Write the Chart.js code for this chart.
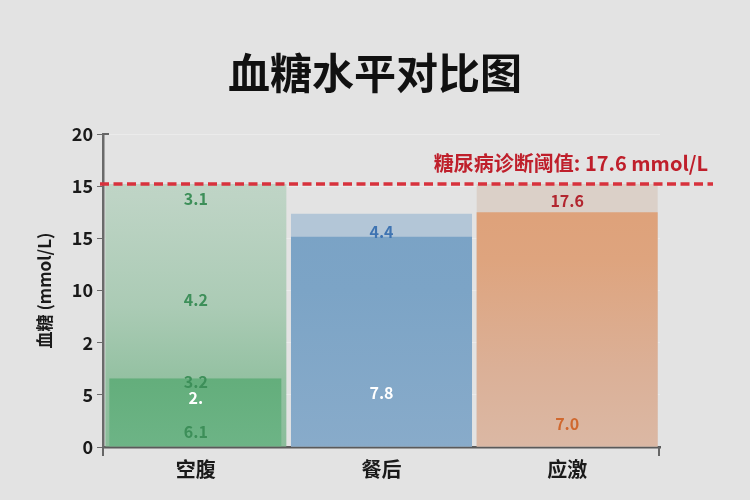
<!DOCTYPE html>
<html>
<head>
<meta charset="utf-8">
<script src="https://cdn.jsdelivr.net/npm/chart.js@4/dist/chart.umd.min.js"></script>
<style>
  html, body { margin: 0; padding: 0; background: #e3e3e3; }
  #wrap { width: 750px; height: 500px; }
</style>
</head>
<body>
<div id="wrap"><canvas id="c" width="750" height="500"></canvas></div>
<script>
// ---- data (y in tick-step units, ticks labelled as in the picture) ----
const categories = ['空腹', '餐后', '应激'];
const upperValues = [5.04, 4.47, 5.04];      // light upper bar layer
const mainValues = [1.32, 4.03, 4.50];       // main (darker) bar layer
const yTickLabels = ['0', '5', '2', '10', '15', '15', '20'];
const thresholdValue = 5.04;
const chartTitle = '血糖水平对比图';
const thresholdText = '糖尿病诊断阈值: 17.6 mmol/L';
const valueTexts = [['3.1', '4.2', '3.2', '2.', '6.1'], ['4.4', '7.8'], ['17.6', '7.0']];
const valueLevels = [[4.75, 2.82, 1.25, 0.94, 0.29], [4.12, 1.04], [4.72, 0.44]];

// ---- styles ----
const FONT = '"Noto Sans CJK SC", "Noto Sans", sans-serif';
const labelColors = [['#3d8f59', '#3d8f59', '#3d8f59', '#ffffff', '#3d8f59'], ['#3f74b2', '#ffffff'], ['#b2262f', '#d0682e']];

function vGrad(ctx, area, stops) {
  const g = ctx.createLinearGradient(0, area.top, 0, area.bottom);
  stops.forEach(s => g.addColorStop(s[0], s[1]));
  return g;
}
function upperColor(c) {
  const area = c.chart.chartArea;
  if (!area) return '#ccc';
  const ctx = c.chart.ctx;
  if (c.dataIndex === 0) return vGrad(ctx, area, [[0, '#c3d7c9'], [0.2, '#bed4c5'], [0.55, '#abcbb5'], [0.78, '#94c1a2'], [1, '#8abd9a']]);
  if (c.dataIndex === 1) return '#b3c6d7';
  return '#dbd0c8';
}
function mainColor(c) {
  const area = c.chart.chartArea;
  if (!area) return '#999';
  const ctx = c.chart.ctx;
  if (c.dataIndex === 0) return vGrad(ctx, area, [[0, '#5fab78'], [0.75, '#62ad7a'], [1, '#6db486']]);
  if (c.dataIndex === 1) return vGrad(ctx, area, [[0, '#78a1c5'], [0.5, '#7ca4c6'], [1, '#88abca']]);
  return vGrad(ctx, area, [[0, '#de9e74'], [0.4, '#dea47e'], [0.75, '#dbb097'], [1, '#dbb8a4']]);
}

const overlayPlugin = {
  id: 'overlay',
  afterDatasetsDraw(chart) {
    const { ctx, chartArea: a, scales: { x, y } } = chart;
    ctx.save();
    // title
    ctx.fillStyle = '#111';
    ctx.font = 'bold 42px ' + FONT;
    ctx.textAlign = 'center';
    ctx.textBaseline = 'middle';
    ctx.fillText(chartTitle, chart.width / 2, 73);
    // value labels
    ctx.font = 'bold 16px ' + FONT;
    valueTexts.forEach((arr, i) => {
      arr.forEach((t, j) => {
        ctx.fillStyle = labelColors[i][j];
        ctx.fillText(t, x.getPixelForValue(i), y.getPixelForValue(valueLevels[i][j]));
      });
    });
    // threshold line
    const ty = y.getPixelForValue(thresholdValue);
    ctx.strokeStyle = '#d8323d';
    ctx.lineWidth = 3.5;
    ctx.setLineDash([9, 4.5]);
    ctx.beginPath();
    ctx.moveTo(a.left - 3, ty);
    ctx.lineTo(a.right + 53, ty);
    ctx.stroke();
    ctx.setLineDash([]);
    ctx.fillStyle = '#bf1f2b';
    ctx.font = 'bold 20px ' + FONT;
    ctx.textAlign = 'right';
    ctx.fillText(thresholdText, a.right + 48, ty - 21);
    // axis end ticks
    ctx.strokeStyle = '#666';
    ctx.lineWidth = 2;
    ctx.beginPath();
    ctx.moveTo(a.right - 1, a.bottom); ctx.lineTo(a.right - 1, a.bottom + 9);
    ctx.moveTo(a.left, a.bottom); ctx.lineTo(a.left, a.bottom + 9);
    ctx.moveTo(a.left, a.top); ctx.lineTo(a.left + 6, a.top);
    ctx.stroke();
    ctx.restore();
  }
};

new Chart(document.getElementById('c'), {
  type: 'bar',
  data: {
    labels: categories,
    datasets: [
      { label: 'main', data: mainValues, backgroundColor: mainColor, order: 1, grouped: false,
        barPercentage: 0.975, categoryPercentage: 1,
        borderWidth: [{ left: 4, right: 5, top: 0, bottom: 0 }, 0, 0], borderColor: 'rgba(0,0,0,0)', borderSkipped: false },
      { label: 'upper', data: upperValues, backgroundColor: upperColor, order: 2, grouped: false,
        barPercentage: 0.975, categoryPercentage: 1, borderWidth: 0 }
    ]
  },
  options: {
    responsive: false,
    animation: false,
    devicePixelRatio: 1,
    layout: { padding: { left: 0, right: 90, top: 134, bottom: 0 } },
    plugins: {
      legend: { display: false },
      tooltip: { enabled: false },
      title: { display: false }
    },
    scales: {
      x: {
        grid: { display: false, drawTicks: false },
        border: { display: true, color: '#5a5a5a', width: 2.5 },
        ticks: { color: '#1a1a1a', padding: 10, font: { family: FONT, size: 20, weight: 'bold' } },
        afterFit(s) { s.height = 53; }
      },
      y: {
        min: 0, max: 6,
        ticks: {
          stepSize: 1,
          color: '#1a1a1a',
          padding: 4,
          font: { family: FONT, size: 18, weight: 'bold' },
          callback: (v) => yTickLabels[v]
        },
        grid: { color: 'rgba(255,255,255,0.3)', tickColor: '#6a6a6a', tickLength: 6, lineWidth: 1 },
        border: { display: true, color: '#6a6a6a', width: 2.5 },
        title: {
          display: true,
          text: '血糖 (mmol/L)',
          color: '#1a1a1a',
          font: { family: FONT, size: 17, weight: 'bold' },
          padding: { top: 34, bottom: 0 }
        },
        afterFit(s) { s.width = 103; }
      }
    }
  },
  plugins: [overlayPlugin]
});
</script>
</body>
</html>
